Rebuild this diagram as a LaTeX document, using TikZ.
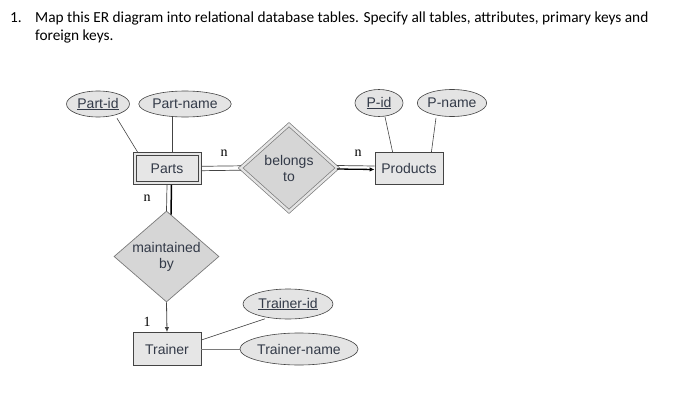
\documentclass[tikz,border=0pt]{standalone}
\usepackage{fontspec}
\setmainfont{Liberation Sans}
\newfontfamily\calib{Carlito}
\newfontfamily\serifn{Liberation Serif}
\usetikzlibrary{shapes.geometric,arrows.meta,calc}
\definecolor{txt}{HTML}{333A48}
\definecolor{bord}{HTML}{444444}
\definecolor{efill}{HTML}{E4E4E4}
\definecolor{dfill}{HTML}{D6D6D6}
\definecolor{bfill}{HTML}{E6E6E6}
\definecolor{lgray}{HTML}{7A7A7A}
\begin{document}
\begin{tikzpicture}[x=1pt,y=-1pt,
  every node/.style={text=txt, font=\fontsize{14}{16}\selectfont},
  qtext/.style={anchor=base west, text=black, font=\calib\fontsize{15.35}{18}\selectfont, inner sep=0},
  attr/.style={ellipse, draw=bord, line width=0.6pt, fill=efill, inner sep=0},
  entity/.style={rectangle, draw=bord, line width=0.8pt, fill=bfill, inner sep=0, minimum width=68, minimum height=32},
  innerbox/.style={draw=bord, line width=0.8pt},
  rel/.style={diamond, draw=lgray, line width=0.7pt, fill=dfill, inner sep=0},
  weakrel/.style={rel, double=efill, double distance=2.4pt},
  conn/.style={draw=lgray, line width=0.7pt},
  thickconn/.style={draw=black, line width=1.5pt},
  card/.style={font=\serifn\fontsize{14}{16}\selectfont, text=black, inner sep=0},
  tip/.style={-{Latex[length=5pt,width=4.5pt]}}
]
\useasboundingbox (0,0) rectangle (681,415);

% question
\node[qtext] (qnum) at (10,22) {1.};
\node[qtext] (q1) at (35,22) {Map this ER diagram into relational database tables. Specify all tables, attributes, primary keys and};
\node[qtext] (q2) at (35,41) {foreign keys.};

% entities
\node[entity] (parts) at (167,168.5) {Parts};
\draw[innerbox] ($(parts.north west)+(3.5,3.5)$) rectangle ($(parts.south east)+(-3.5,-3.5)$);
\node[entity] (products) at (409,168.5) {Products};
\node[entity, minimum height=33] (trainer) at (167,349) {Trainer};

% attributes
\node[attr, minimum width=63, minimum height=26] (partid) at (98,104) {\underline{Part-id}};
\node[attr, minimum width=91, minimum height=26] (partname) at (185,104) {Part-name};
\node[attr, minimum width=48, minimum height=27] (pid) at (379,103) {\underline{P-id}};
\node[attr, minimum width=66, minimum height=27] (pname) at (452,103) {P-name};
\node[attr, minimum width=90, minimum height=30] (trainerid) at (288,304) {\underline{Trainer-id}};
\node[attr, minimum width=110, minimum height=32] (trainername) at (299,349) {Trainer-name};

% relationships
\node[weakrel, minimum width=97, minimum height=87,
  label={[name=belongstxt, align=center, text=txt, font=\fontsize{14}{16}\selectfont]center:belongs\\to}] (belongs) at (289,168) {};
\node[rel, minimum width=105, minimum height=91,
  label={[name=maintxt, align=center, text=txt, font=\fontsize{14}{16}\selectfont]center:maintained\\by}] (maint) at (166.5,256.5) {};

% attribute links
\draw[conn, draw=bord, line width=0.6pt] ($(partid.south)+(19,1)$) -- ($(parts.north west)+(5,0)$);
\draw[conn, draw=bord, line width=0.6pt] ($(partname.south)+(-13,0)$) -- ($(parts.north)+(5,0)$);
\draw[conn, draw=bord, line width=0.6pt] ($(pid.south)+(6,0)$) -- ($(products.north west)+(18,0)$);
\draw[conn, draw=bord, line width=0.6pt] ($(pname.south)+(-16,1)$) -- ($(products.north east)+(-12,0)$);
\draw[conn, draw=bord, line width=0.6pt] ($(trainer.east)+(0,-9)$) -- ($(trainerid.south west)+(9,4)$);
\draw[conn] (trainer.east) -- (trainername.west);

% parts -- belongs (double thin)
\draw[conn, draw=bord, line width=0.7pt] ($(parts.east)+(0,-2.2)$) -- ($(belongs.west)+(1,-2.2)$);
\draw[conn, draw=bord, line width=0.7pt] ($(parts.east)+(0,2.2)$) -- ($(belongs.west)+(1,2.2)$);
\node[card] (n1) at (224,153) {n};

% belongs -- products
\draw[conn, line width=0.7pt, draw=bord] ($(belongs.east)+(-1,-2.5)$) -- ($(products.west)+(0,-2.5)$);
\draw[thickconn, line width=1.3pt, tip] ($(belongs.east)+(-1,1)$) -- ($(products.west)+(0,1)$);
\node[card] (n2) at (358,153) {n};

% parts -- maintained (thin + thick)
\draw[conn, draw=bord, line width=0.7pt] (parts.south) -- ($(maint.north)+(0,0.5)$);
\draw[thickconn] ($(parts.south)+(4.5,0)$) -- ($(maint.north)+(4.5,4)$);
\node[card] (n3) at (147,198) {n};

% maintained -- trainer
\draw[conn, draw=bord, line width=0.8pt, tip] (maint.south) -- (trainer.north);
\node[card] (one) at (147,322) {1};
\end{tikzpicture}
\end{document}
